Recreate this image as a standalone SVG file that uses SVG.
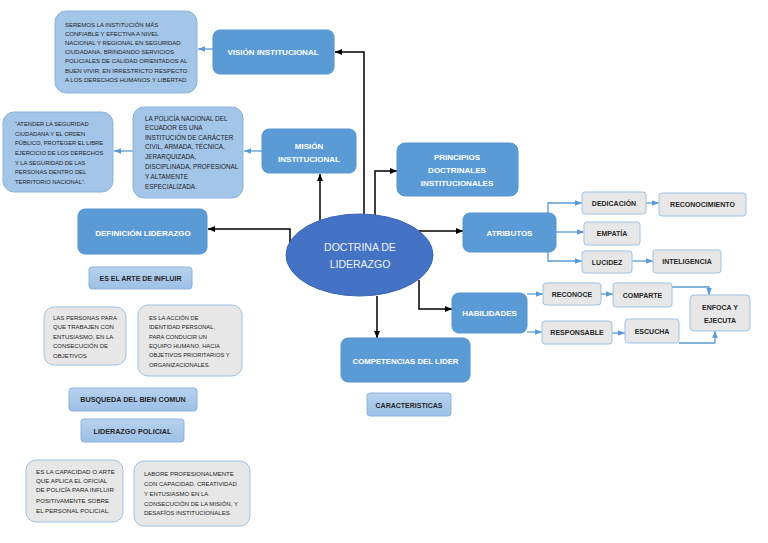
<svg xmlns="http://www.w3.org/2000/svg" width="768" height="543" viewBox="0 0 768 543">
<defs>
<linearGradient id="lbg" x1="0" y1="0" x2="0" y2="1">
<stop offset="0" stop-color="#B7D2EE"/>
<stop offset="1" stop-color="#9CC0E6"/>
</linearGradient>
<marker id="ab" markerUnits="userSpaceOnUse" markerWidth="8" markerHeight="8" viewBox="0 0 8 8" refX="7" refY="4" orient="auto">
<path d="M0,1 L7,4 L0,7 Z" fill="#000"/>
</marker>
<marker id="au" markerUnits="userSpaceOnUse" markerWidth="8" markerHeight="8" viewBox="0 0 8 8" refX="7" refY="4" orient="auto">
<path d="M0,1.2 L7,4 L0,6.8 Z" fill="#5B9BD5"/>
</marker>
</defs>
<style>
.main{fill:#5B9BD5;stroke:#5594CF;stroke-width:1}
.mt{font-family:"Liberation Sans",Arial,sans-serif;font-weight:bold;font-size:8px;fill:#FFFFFF;text-anchor:middle}
.lt{fill:#A2C5E8;stroke:#8DB5DE;stroke-width:1}
.gr{fill:#E7E7E7;stroke:#9DC3E6;stroke-width:1}
.lab{fill:url(#lbg);stroke:#8DB3DC;stroke-width:1}
.pt{font-family:"Liberation Sans",Arial,sans-serif;font-size:6px;fill:#1E1E1E}
.ct{font-family:"Liberation Sans",Arial,sans-serif;font-weight:bold;font-size:7px;fill:#262626;text-anchor:middle}
.k{fill:none;stroke:#000;stroke-width:1.5}
.b{fill:none;stroke:#5B9BD5;stroke-width:1.3}
</style>
<rect width="768" height="543" fill="#FFFFFF"/>

<g id="connectors">
<path class="k" d="M364,215 V52 H335" marker-end="url(#ab)"/>
<path class="k" d="M320,220 V174" marker-end="url(#ab)"/>
<path class="k" d="M375,217 V171 H397" marker-end="url(#ab)"/>
<path class="k" d="M290,247 V229 H208" marker-end="url(#ab)"/>
<path class="k" d="M416,231 H463" marker-end="url(#ab)"/>
<path class="k" d="M419,280 V309 H452" marker-end="url(#ab)"/>
<path class="k" d="M377,296 V338" marker-end="url(#ab)"/>
<path class="b" d="M213,49 H198" marker-end="url(#au)"/>
<path class="b" d="M262,151 H244" marker-end="url(#au)"/>
<path class="b" d="M133,151 H114" marker-end="url(#au)"/>
<path class="b" d="M548,213 V203 H582" marker-end="url(#au)"/>
<path class="b" d="M556,232 H584" marker-end="url(#au)"/>
<path class="b" d="M548,252 V261 H582" marker-end="url(#au)"/>
<path class="b" d="M646,203 H659" marker-end="url(#au)"/>
<path class="b" d="M632,261 H653" marker-end="url(#au)"/>
<path class="b" d="M527,294 H543" marker-end="url(#au)"/>
<path class="b" d="M601,294 H613" marker-end="url(#au)"/>
<path class="b" d="M672,287 H709 V295" marker-end="url(#au)"/>
<path class="b" d="M527,332 H542" marker-end="url(#au)"/>
<path class="b" d="M612,333 H625" marker-end="url(#au)"/>
<path class="b" d="M679,343 H715 V331" marker-end="url(#au)"/>
</g>

<g id="vision-text">
<rect class="lt" x="55" y="11" width="142" height="82" rx="11"/>
<text class="pt"><tspan x="65" y="26.5">SEREMOS LA INSTITUCIÓN MÁS</tspan><tspan x="65" y="35.7">CONFIABLE Y EFECTIVA A NIVEL</tspan><tspan x="65" y="44.9">NACIONAL Y REGIONAL EN SEGURIDAD</tspan><tspan x="65" y="54.1">CIUDADANA, BRINDANDO SERVICIOS</tspan><tspan x="65" y="63.3">POLICIALES DE CALIDAD ORIENTADOS AL</tspan><tspan x="65" y="72.5">BUEN VIVIR, EN IRRESTRICTO RESPECTO</tspan><tspan x="65" y="81.7">A LOS DERECHOS HUMANOS Y LIBERTAD</tspan></text>
</g>

<g id="vision">
<rect class="main" x="213" y="30" width="121" height="44" rx="7"/>
<text class="mt" x="273" y="55">VISIÓN INSTITUCIONAL</text>
</g>

<g id="mision-text">
<rect class="lt" x="133" y="107" width="110" height="91" rx="11"/>
<text class="pt" style="font-size:6.4px"><tspan x="145" y="120.5">LA POLICÍA NACIONAL DEL</tspan><tspan x="145" y="130">ECUADOR ES UNA</tspan><tspan x="145" y="139.5">INSTITUCIÓN DE CARÁCTER</tspan><tspan x="145" y="149">CIVIL, ARMADA, TÉCNICA,</tspan><tspan x="145" y="158.5">JERARQUIZADA,</tspan><tspan x="145" y="168.5">DISCIPLINADA, PROFESIONAL</tspan><tspan x="145" y="178.5">Y ALTAMENTE</tspan><tspan x="145" y="188.5">ESPECIALIZADA.</tspan></text>
</g>

<g id="atender-text">
<rect class="lt" x="3" y="112" width="110" height="80" rx="11"/>
<text class="pt" style="font-size:5.8px"><tspan x="15" y="126">“ATENDER LA SEGURIDAD</tspan><tspan x="15" y="135.5">CIUDADANA Y EL ORDEN</tspan><tspan x="15" y="145.3">PÚBLICO, PROTEGER EL LIBRE</tspan><tspan x="15" y="154.8">EJERCICIO DE LOS DERECHOS</tspan><tspan x="15" y="164.7">Y LA SEGURIDAD DE LAS</tspan><tspan x="15" y="174.3">PERSONAS DENTRO DEL</tspan><tspan x="15" y="183.8">TERRITORIO NACIONAL”.</tspan></text>
</g>

<g id="mision">
<rect class="main" x="262" y="129" width="94" height="44" rx="7"/>
<text class="mt"><tspan x="309" y="148.5">MISIÓN</tspan><tspan x="309" y="161.5">INSTITUCIONAL</tspan></text>
</g>

<g id="principios">
<rect class="main" x="397" y="143" width="121" height="53" rx="8"/>
<text class="mt"><tspan x="457" y="159.5">PRINCIPIOS</tspan><tspan x="457" y="172.5">DOCTRINALES</tspan><tspan x="457" y="185.5">INSTITUCIONALES</tspan></text>
</g>

<g id="doctrina">
<ellipse cx="359.5" cy="255" rx="73.5" ry="41" fill="#4472C4" stroke="#3C66B3" stroke-width="1"/>
<text font-family="Liberation Sans, Arial, sans-serif" font-size="10.5" fill="#EEF3FA" text-anchor="middle"><tspan x="360" y="251">DOCTRINA DE</tspan><tspan x="360" y="268">LIDERAZGO</tspan></text>
</g>

<g id="definicion">
<rect class="main" x="78" y="209" width="129" height="45" rx="7"/>
<text class="mt" x="143" y="235.5">DEFINICIÓN LIDERAZGO</text>
</g>

<g id="arte">
<rect class="lab" x="89" y="267" width="103" height="22" rx="3"/>
<text class="ct" x="140.5" y="280.5">ES EL ARTE DE INFLUIR</text>
</g>

<g id="personas">
<rect class="gr" x="44" y="307" width="82" height="58" rx="10"/>
<text class="pt"><tspan x="53" y="319.5">LAS PERSONAS PARA</tspan><tspan x="53" y="329">QUE TRABAJEN CON</tspan><tspan x="53" y="338.5">ENTUSIASMO, EN LA</tspan><tspan x="53" y="348">CONSECUCIÓN DE</tspan><tspan x="53" y="357.5">OBJETIVOS</tspan></text>
</g>

<g id="accion">
<rect class="gr" x="138" y="305" width="104" height="71" rx="10"/>
<text class="pt" style="font-size:5.8px"><tspan x="149" y="319.5">ES LA ACCIÓN DE</tspan><tspan x="149" y="329">IDENTIDAD PERSONAL,</tspan><tspan x="149" y="338.5">PARA CONDUCIR UN</tspan><tspan x="149" y="348">EQUIPO HUMANO, HACIA</tspan><tspan x="149" y="357.3">OBJETIVOS PRIORITARIOS Y</tspan><tspan x="149" y="367">ORGANIZACIONALES.</tspan></text>
</g>

<g id="busqueda">
<rect class="lab" x="69" y="388" width="128" height="23" rx="3"/>
<text class="ct" x="133" y="402" style="font-size:7.2px">BUSQUEDA DEL BIEN COMUN</text>
</g>

<g id="liderazgo-policial">
<rect class="lab" x="81" y="419" width="103" height="23" rx="3"/>
<text class="ct" x="132.5" y="433.5" style="font-size:7.2px">LIDERAZGO POLICIAL</text>
</g>

<g id="capacidad">
<rect class="gr" x="26" y="460" width="97" height="62" rx="10"/>
<text class="pt" style="font-size:6.2px"><tspan x="36" y="474">ES LA CAPACIDAD O ARTE</tspan><tspan x="36" y="483">QUE APLICA EL OFICIAL</tspan><tspan x="36" y="492.3">DE POLICÍA PARA INFLUIR</tspan><tspan x="36" y="503">POSITIVAMENTE SOBRE</tspan><tspan x="36" y="513">EL PERSONAL POLICIAL.</tspan></text>
</g>

<g id="labore">
<rect class="gr" x="134" y="461" width="116" height="65" rx="10"/>
<text class="pt"><tspan x="144" y="476.3">LABORE PROFESIONALMENTE</tspan><tspan x="144" y="486.3">CON CAPACIDAD, CREATIVIDAD</tspan><tspan x="144" y="495.6">Y ENTUSIASMO EN LA</tspan><tspan x="144" y="505.6">CONSECUCIÓN DE LA MISIÓN, Y</tspan><tspan x="144" y="515">DESAFÍOS INSTITUCIONALES.</tspan></text>
</g>

<g id="competencias">
<rect class="main" x="341" y="338" width="129" height="44" rx="7"/>
<text class="mt" x="405.5" y="363.5" style="font-size:7.8px">COMPETENCIAS DEL LIDER</text>
</g>

<g id="caracteristicas">
<rect class="lab" x="367" y="393" width="84" height="23" rx="3"/>
<text class="ct" x="409" y="407.5">CARACTERISTICAS</text>
</g>

<g id="atributos">
<rect class="main" x="463" y="213" width="93" height="39" rx="7"/>
<text class="mt" x="509.5" y="235.5">ATRIBUTOS</text>
</g>

<g id="habilidades">
<rect class="main" x="452" y="293" width="75" height="40" rx="7"/>
<text class="mt" x="489.5" y="316">HABILIDADES</text>
</g>

<g id="dedicacion">
<rect class="gr" x="582" y="192" width="64" height="22" rx="3"/>
<text class="ct" x="614" y="205.5">DEDICACIÓN</text>
</g>
<g id="reconocimiento">
<rect class="gr" x="659" y="193" width="87" height="23" rx="3"/>
<text class="ct" x="702.5" y="207">RECONOCIMIENTO</text>
</g>
<g id="empatia">
<rect class="gr" x="584" y="222" width="56" height="23" rx="3"/>
<text class="ct" x="612" y="236">EMPATÍA</text>
</g>
<g id="lucidez">
<rect class="gr" x="582" y="251" width="50" height="22" rx="3"/>
<text class="ct" x="607" y="264.5">LUCIDEZ</text>
</g>
<g id="inteligencia">
<rect class="gr" x="653" y="250" width="68" height="23" rx="3"/>
<text class="ct" x="687" y="264">INTELIGENCIA</text>
</g>
<g id="reconoce">
<rect class="gr" x="543" y="283" width="58" height="22" rx="3"/>
<text class="ct" x="572" y="296.5">RECONOCE</text>
</g>
<g id="comparte">
<rect class="gr" x="613" y="283" width="59" height="24" rx="3"/>
<text class="ct" x="642.5" y="297.5">COMPARTE</text>
</g>
<g id="enfoca">
<rect class="gr" x="690" y="295" width="60" height="36" rx="4"/>
<text class="ct"><tspan x="720" y="309.8">ENFOCA Y</tspan><tspan x="720" y="322.5">EJECUTA</tspan></text>
</g>
<g id="responsable">
<rect class="gr" x="542" y="321" width="70" height="23" rx="3"/>
<text class="ct" x="577" y="335">RESPONSABLE</text>
</g>
<g id="escucha">
<rect class="gr" x="625" y="319" width="54" height="24" rx="3"/>
<text class="ct" x="652" y="333.5">ESCUCHA</text>
</g>
</svg>
